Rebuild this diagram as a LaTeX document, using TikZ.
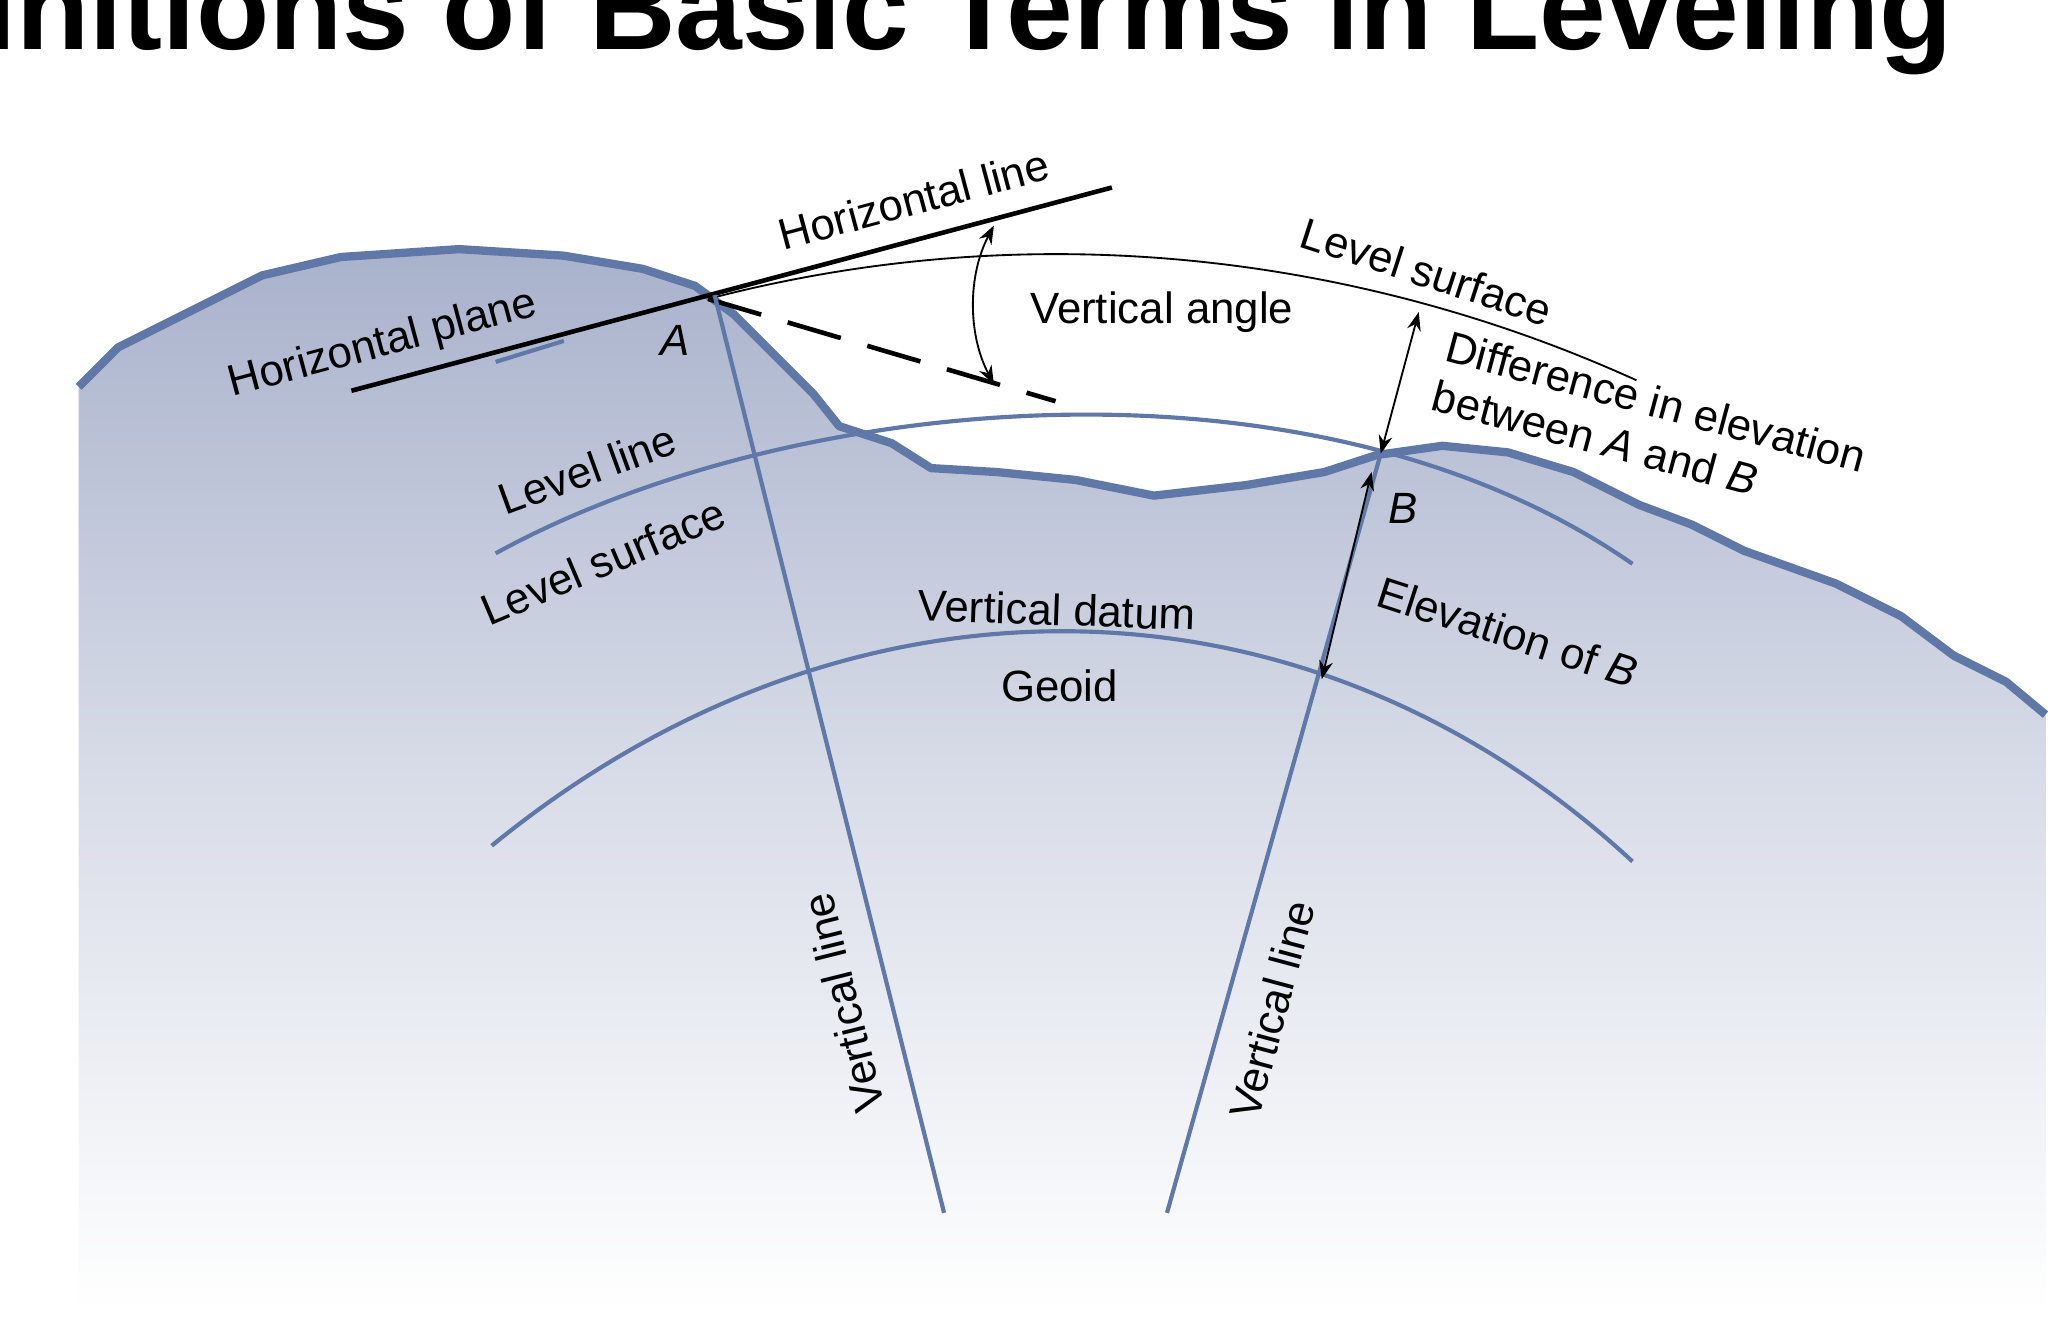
\documentclass[tikz,border=0pt]{standalone}
\usepackage{fontspec}
\setmainfont{Liberation Sans}
\usetikzlibrary{arrows.meta}
\definecolor{gline}{HTML}{5F78A8}
\definecolor{gtop}{HTML}{A9B2CC}
\tikzset{lbl/.style={font=\fontsize{9.5}{11}\selectfont,inner sep=1pt},
 bl/.style={draw=gline,line width=0.9pt},
 dim/.style={{Stealth[length=4pt]}-{Stealth[length=4pt]},thin}}
\begin{document}
\begin{tikzpicture}[x=0.01cm,y=-0.01cm]
\useasboundingbox (0,0) rectangle (1568,1012);
\fill[white] (0,0) rectangle (1568,1012);
\begin{scope}
\clip (0,0) rectangle (1568,1012);
\node[anchor=base east,font=\fontsize{26}{30}\selectfont\bfseries,inner sep=0] (title) at (1490,38) {Definitions of Basic Terms in Leveling};
\end{scope}
\shade[top color=gtop,bottom color=white,middle color=gtop!45] (60,295) -- (90,265) -- (150,235) -- (200,210) -- (260,196) -- (350,190) -- (430,195) -- (490,205) -- (530,218) -- (560,240) -- (590,270) -- (620,300) -- (640,325) -- (680,338) -- (710,357) -- (760,360) -- (820,366) -- (880,378) -- (950,370) -- (1010,360) -- (1050,347) -- (1100,340) -- (1150,345) -- (1200,360) -- (1250,385) -- (1290,400) -- (1330,420) -- (1400,445) -- (1450,470) -- (1490,500) -- (1530,520) -- (1560,545) -- (1560,1000) -- (60,1000) -- cycle;
\draw[draw=gline,line width=1.8pt,line join=round] (60,295) -- (90,265) -- (150,235) -- (200,210) -- (260,196) -- (350,190) -- (430,195) -- (490,205) -- (530,218) -- (560,240) -- (590,270) -- (620,300) -- (640,325) -- (680,338) -- (710,357) -- (760,360) -- (820,366) -- (880,378) -- (950,370) -- (1010,360) -- (1050,347) -- (1100,340) -- (1150,345) -- (1200,360) -- (1250,385) -- (1290,400) -- (1330,420) -- (1400,445) -- (1450,470) -- (1490,500) -- (1530,520) -- (1560,545);
\coordinate (A) at (540,228);
\coordinate (B) at (1053,346);
\coordinate (hl1) at (268,298); \coordinate (hl2) at (848,143);
\coordinate (ds) at (805,306);
\draw[line width=1pt] (hl1) -- (hl2);
\draw[dashed,line width=1pt,dash pattern=on 12pt off 6pt] (A) -- (ds);
\draw[thin] (A) .. controls (800,160) and (1050,200) .. (1248,290);
\draw[bl] (378,422) .. controls (600,300) and (1000,260) .. (1245,430);
\draw[bl] (375,645) .. controls (650,420) and (1000,430) .. (1245,657);
\draw[bl] (378,276) -- (430,260);
\coordinate (va) at (720,925); \coordinate (vb) at (890,925);
\draw[bl] (545,225) -- (va);
\draw[bl] (B) -- (vb);
\coordinate (ang1) at (758,172); \coordinate (ang2) at (758,293);
\draw[dim] (ang1) .. controls (738,210) and (738,255) .. (ang2);
\coordinate (d1) at (1082,238); \coordinate (e2) at (1008,518);
\draw[dim] (d1) -- (B);
\draw[dim] (1046,360) -- (e2);
\node[lbl,rotate=15] (t1) at (697,152) {Horizontal line};
\node[lbl,rotate=15] (t2) at (292,263) {Horizontal plane};
\node[lbl,rotate=-18] (t3) at (1088,207) {Level surface};
\node[lbl] (t4) at (886,238) {Vertical angle};
\node[lbl] (t5) at (515,260) {\itshape A};
\node[lbl,rotate=-15,align=left] (t6) at (1258,325) {Difference in elevation\\between \textit{A} and \textit{B}};
\node[lbl,rotate=20] (t7) at (448,358) {Level line};
\node[lbl,rotate=23] (t8) at (460,428) {Level surface};
\node[lbl] (t9) at (1070,388) {\itshape B};
\node[lbl,rotate=-2] (t10) at (806,465) {Vertical datum};
\node[lbl] (t11) at (808,523) {Geoid};
\node[lbl,rotate=-18] (t12) at (1150,482) {Elevation of \textit{B}};
\node[lbl,rotate=104] (t13) at (643,765) {Vertical line};
\node[lbl,rotate=75] (t14) at (970,770) {Vertical line};
\end{tikzpicture}
\end{document}
